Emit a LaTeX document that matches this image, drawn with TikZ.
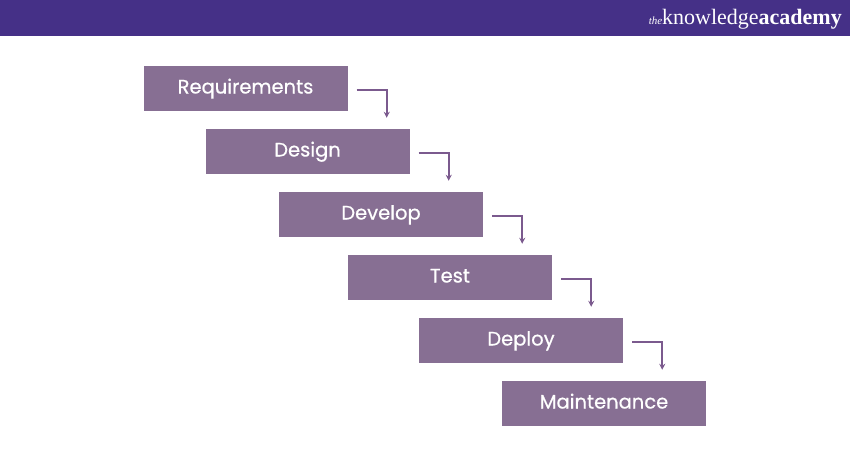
\documentclass[tikz,border=0pt]{standalone}
\usepackage{fontspec}
\setmainfont{Poppins}
\newfontfamily\boxfont{Poppins}[BoldFont=Poppins,BoldFeatures={FakeBold=0.6}]
\newfontfamily\logofont{Liberation Serif}
\usetikzlibrary{arrows.meta}
\definecolor{hdr}{HTML}{453087}
\definecolor{boxc}{HTML}{876F93}
\definecolor{arr}{HTML}{7B5A8E}
\tikzset{stepbox/.style={fill=boxc,draw=none,minimum width=204pt,minimum height=45pt,inner sep=0pt,text=white,text height=14pt,text depth=4pt,font=\boxfont\bfseries\fontsize{19.5pt}{21pt}\selectfont},
conn/.style={draw=arr,line width=1.6pt,-{Stealth[length=6pt,width=6pt]}}}
\begin{document}
\begin{tikzpicture}[x=1pt,y=-1pt]
\useasboundingbox (0,0) rectangle (850,450);
\fill[hdr] (0,0) rectangle (850,36);
\node[anchor=east,text=white,inner sep=0pt] (logo) at (842,19) {\logofont\fontsize{11pt}{12pt}\selectfont\itshape the\fontsize{22pt}{24pt}\selectfont\upshape knowledge\textbf{academy}};
\node[stepbox] (b1) at (245.5,88.5) {Requirements};
\node[stepbox] (b2) at (307.5,151.5) {Design};
\node[stepbox] (b3) at (381,214.5) {Develop};
\node[stepbox] (b4) at (450,277.5) {Test};
\node[stepbox] (b5) at (521,340.5) {Deploy};
\node[stepbox] (b6) at (604,403.5) {Maintenance};
\foreach \a/\b in {b1/b2,b2/b3,b3/b4,b4/b5,b5/b6}{
  \coordinate (s) at ([xshift=9pt,yshift=-1.5pt]\a.east);
  \coordinate (c) at ([xshift=39pt,yshift=-1.5pt]\a.east);
  \coordinate (e) at ([yshift=11pt]\b.north -| c);
  \draw[conn] (s) -- (c) -- (e);
}
\end{tikzpicture}
\end{document}
